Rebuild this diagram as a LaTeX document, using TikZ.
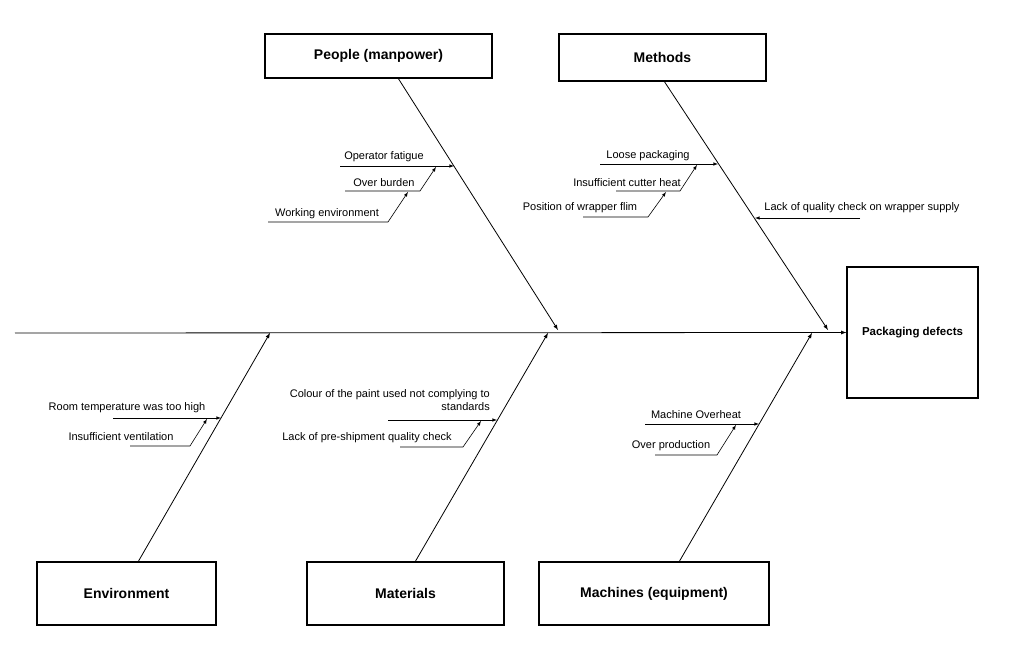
\documentclass[tikz,border=0pt]{standalone}
\usepackage{fontspec}
\setmainfont{Liberation Sans}
\begin{document}
\begin{tikzpicture}[x=1pt,y=-1pt,
  box/.style={draw,line width=1.2pt,inner sep=0pt,font=\fontsize{14}{16}\selectfont\bfseries},
  lab/.style={font=\fontsize{11}{13}\selectfont,inner sep=1pt},
  bone/.style={line width=0.8pt,-latex},
  sub/.style={line width=0.6pt,-latex}]
\useasboundingbox (0,0) rectangle (1013,653);
\node[box,minimum width=227,minimum height=44] (P) at (378.5,56) {People (manpower)};
\node[box,minimum width=207,minimum height=47] (M) at (662.5,57.5) {Methods};
\node[box,minimum width=131,minimum height=131,font=\fontsize{11.5}{13}\selectfont\bfseries] (D) at (912.5,332.5) {Packaging defects};
\node[box,minimum width=179,minimum height=63] (E) at (126.5,593.5) {Environment};
\node[box,minimum width=197,minimum height=63] (Ma) at (405.5,593.5) {Materials};
\node[box,minimum width=230,minimum height=63] (Mc) at (654,593.5) {Machines (equipment)};
\coordinate (s0) at (15,333);
\draw[bone] (s0) -- (D.west);
\coordinate (p0) at (398,78); \coordinate (p1) at (558,330);
\coordinate (m0) at (664,81); \coordinate (m1) at (828,330);
\coordinate (e0) at (138,562); \coordinate (e1) at (270,333);
\coordinate (a0) at (415,562); \coordinate (a1) at (548,333);
\coordinate (c0) at (679,562); \coordinate (c1) at (812,333);
\draw[bone] (p0) -- (p1);
\draw[bone] (m0) -- (m1);
\draw[bone] (e0) -- (e1);
\draw[bone] (a0) -- (a1);
\draw[bone] (c0) -- (c1);
% People
\node[lab] (t1) at (384,157) {Operator fatigue};
\coordinate (u1a) at (340,166); \coordinate (u1b) at (454,166);
\draw[sub] (u1a) -- (u1b);
\node[lab] (t2) at (384,183) {Over burden};
\coordinate (u2a) at (345,191); \coordinate (u2b) at (420,191); \coordinate (u2c) at (436,167);
\draw[sub] (u2a) -- (u2b) -- (u2c);
\node[lab] (t3) at (327,214) {Working environment};
\coordinate (u3a) at (268,222); \coordinate (u3b) at (388,222); \coordinate (u3c) at (408,192);
\draw[sub] (u3a) -- (u3b) -- (u3c);
% Methods
\node[lab] (t4) at (648,156) {Loose packaging};
\coordinate (u4a) at (600,164); \coordinate (u4b) at (718,164);
\draw[sub] (u4a) -- (u4b);
\node[lab] (t5) at (627,183) {Insufficient cutter heat};
\coordinate (u5a) at (616,191); \coordinate (u5b) at (680,191); \coordinate (u5c) at (697,165);
\draw[sub] (u5a) -- (u5b) -- (u5c);
\node[lab] (t6) at (580,208) {Position of wrapper flim};
\coordinate (u6a) at (583,217); \coordinate (u6b) at (648,217); \coordinate (u6c) at (666,192);
\draw[sub] (u6a) -- (u6b) -- (u6c);
\node[lab] (t7) at (862,208) {Lack of quality check on wrapper supply};
\coordinate (u7a) at (860,218); \coordinate (u7b) at (755,218);
\draw[sub] (u7a) -- (u7b);
% Environment
\node[lab] (t8) at (127,408) {Room temperature was too high};
\coordinate (u8a) at (113,418); \coordinate (u8b) at (221,418);
\draw[sub] (u8a) -- (u8b);
\node[lab] (t9) at (121,437) {Insufficient ventilation};
\coordinate (u9a) at (130,446); \coordinate (u9b) at (190,446); \coordinate (u9c) at (207,419);
\draw[sub] (u9a) -- (u9b) -- (u9c);
% Materials
\node[lab,align=right,anchor=east] (t10) at (491,400) {Colour of the paint used not complying to\\standards};
\coordinate (u10a) at (388,420); \coordinate (u10b) at (497,420);
\draw[sub] (u10a) -- (u10b);
\node[lab] (t11) at (367,438) {Lack of pre-shipment quality check};
\coordinate (u11a) at (400,447); \coordinate (u11b) at (463,447); \coordinate (u11c) at (481,421);
\draw[sub] (u11a) -- (u11b) -- (u11c);
% Machines
\node[lab] (t12) at (696,415) {Machine Overheat};
\coordinate (u12a) at (645,424); \coordinate (u12b) at (759,424);
\draw[sub] (u12a) -- (u12b);
\node[lab] (t13) at (671,446) {Over production};
\coordinate (u13a) at (655,455); \coordinate (u13b) at (717,455); \coordinate (u13c) at (736,425);
\draw[sub] (u13a) -- (u13b) -- (u13c);
\end{tikzpicture}
\end{document}
